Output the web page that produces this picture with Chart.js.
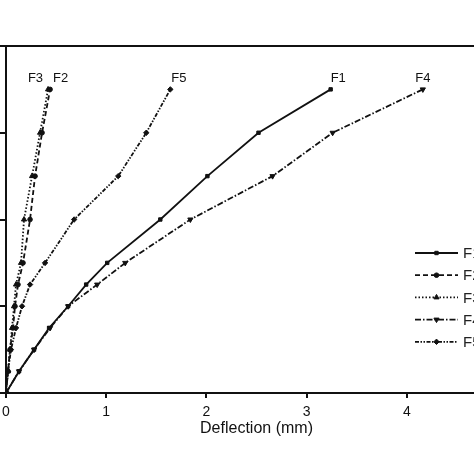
<!DOCTYPE html>
<html>
<head>
<meta charset="utf-8">
<script src="https://cdn.jsdelivr.net/npm/chart.js@4"></script>
<style>
  html, body { margin: 0; padding: 0; background: #fff; overflow: hidden; }
  #wrap { width: 474px; height: 474px; overflow: hidden; }
</style>
</head>
<body>
<div id="wrap"><canvas id="chart" width="512" height="474"></canvas></div>
<script>
// load steps shared by every specimen
const loads = [0, 0.25, 0.5, 0.75, 1.0, 1.25, 1.5, 2.0, 2.5, 3.0, 3.5];

// deflection (mm)
const seriesNames = ['F1', 'F2', 'F3', 'F4', 'F5'];
const defF1 = [0, 0.13, 0.28, 0.43, 0.62, 0.80, 1.01, 1.54, 2.01, 2.52, 3.24];
const defF2 = [0, 0.02, 0.04, 0.07, 0.09, 0.12, 0.17, 0.24, 0.29, 0.36, 0.44];
const defF3 = [0, 0.02, 0.04, 0.06, 0.08, 0.10, 0.15, 0.18, 0.26, 0.34, 0.42];
const defF4 = [0, 0.13, 0.28, 0.44, 0.62, 0.91, 1.19, 1.84, 2.66, 3.26, 4.16];
const defF5 = [0, 0.02, 0.05, 0.10, 0.16, 0.24, 0.39, 0.68, 1.12, 1.40, 1.64];

const xTicks = [0, 1, 2, 3, 4, 5];
const xTitle = 'Deflection (mm)';

const toPts = defl => defl.map((d, i) => ({ x: d, y: loads[i] }));

const styles = [
    { dash: [], point: 'rect', rot: 0, r: 2.4 },
    { dash: [5, 3], point: 'circle', rot: 0, r: 2.3 },
    { dash: [1.5, 2], point: 'triangle', rot: 0, r: 3 },
    { dash: [6, 2, 1.5, 2], point: 'triangle', rot: 180, r: 3 },
    { dash: [4, 1.5, 1.5, 1.5, 1.5, 1.5], point: 'rectRot', rot: 0, r: 2.7 }
];
const allDefl = [defF1, defF2, defF3, defF4, defF5];

const datasets = seriesNames.map((name, i) => ({
    label: name,
    data: toPts(allDefl[i]),
    borderColor: '#111',
    backgroundColor: '#111',
    borderWidth: 1.8,
    borderDash: styles[i].dash,
    pointStyle: styles[i].point,
    pointRotation: styles[i].rot,
    pointRadius: styles[i].r,
    pointBorderWidth: 1,
    showLine: true,
    fill: false,
    tension: 0
}));

// end-of-curve name tags (offsets relative to last point)
const tagOffsets = [
    { dx: 0, align: 'left' },
    { dx: 3, align: 'left' },
    { dx: -5, align: 'right' },
    { dx: 0, align: 'center' },
    { dx: 1, align: 'left' }
];

const endTags = {
    id: 'endTags',
    afterDatasetsDraw(chart) {
        const ctx = chart.ctx;
        ctx.save();
        ctx.font = '13px "Liberation Sans", Arial, sans-serif';
        ctx.fillStyle = '#111';
        ctx.textBaseline = 'bottom';
        chart.data.datasets.forEach((ds, i) => {
            const meta = chart.getDatasetMeta(i);
            const last = meta.data[meta.data.length - 1];
            const o = tagOffsets[i];
            ctx.textAlign = o.align;
            ctx.fillText(ds.label, last.x + o.dx, last.y - 4);
        });
        ctx.restore();
    }
};

// legend drawn inside the plot, right side
const innerLegend = {
    id: 'innerLegend',
    afterDraw(chart) {
        const ctx = chart.ctx;
        const x0 = 415, x1 = 458, top = 253, gap = 22.2;
        ctx.save();
        chart.data.datasets.forEach((ds, i) => {
            const y = top + i * gap;
            ctx.strokeStyle = ds.borderColor;
            ctx.fillStyle = ds.backgroundColor;
            ctx.lineWidth = 1.8;
            ctx.setLineDash(ds.borderDash);
            ctx.beginPath();
            ctx.moveTo(x0, y);
            ctx.lineTo(x1, y);
            ctx.stroke();
            ctx.setLineDash([]);
            ctx.lineWidth = 1;
            Chart.helpers.drawPoint(ctx, {
                pointStyle: ds.pointStyle,
                rotation: ds.pointRotation,
                radius: ds.pointRadius,
                borderWidth: 1
            }, (x0 + x1) / 2, y);
            ctx.fillStyle = '#222';
            ctx.font = '15px "Liberation Sans", Arial, sans-serif';
            ctx.textAlign = 'left';
            ctx.textBaseline = 'middle';
            ctx.fillText(ds.label, x1 + 5, y + 1);
        });
        ctx.restore();
    }
};

new Chart(document.getElementById('chart'), {
    type: 'scatter',
    data: { datasets },
    plugins: [endTags, innerLegend],
    options: {
        responsive: false,
        animation: false,
        layout: { padding: { top: 46, left: 0, right: 0, bottom: 0 } },
        plugins: { legend: { display: false }, tooltip: { enabled: false } },
        scales: {
            x: {
                type: 'linear',
                min: 0,
                max: 5,
                afterBuildTicks: s => { s.ticks = xTicks.map(v => ({ value: v })); },
                ticks: { color: '#111', font: { size: 14, family: '"Liberation Sans", Arial' }, padding: 6, maxRotation: 0 },
                grid: { drawOnChartArea: false, drawTicks: true, tickLength: 5, color: '#111', lineWidth: 2 },
                border: { color: '#111', width: 2 },
                title: { display: true, text: xTitle, color: '#111', font: { size: 16, family: '"Liberation Sans", Arial' }, padding: { top: 0, bottom: 36 } },
                afterFit: s => { s.height = 81; s.paddingLeft = 0; s.paddingRight = 0; }
            },
            xTop: {
                type: 'linear',
                position: 'top',
                min: 0,
                max: 5,
                ticks: { display: false },
                grid: { display: false, drawTicks: false },
                border: { color: '#111', width: 2 },
                afterFit: s => { s.height = 0; s.paddingLeft = 0; s.paddingRight = 0; }
            },
            y: {
                type: 'linear',
                min: 0,
                max: 4,
                ticks: { display: false, stepSize: 1 },
                grid: { drawOnChartArea: false, drawTicks: true, tickLength: 6, color: '#111', lineWidth: 2 },
                border: { color: '#111', width: 2 },
                afterFit: s => { s.width = 6; }
            }
        }
    }
});
</script>
</body>
</html>
